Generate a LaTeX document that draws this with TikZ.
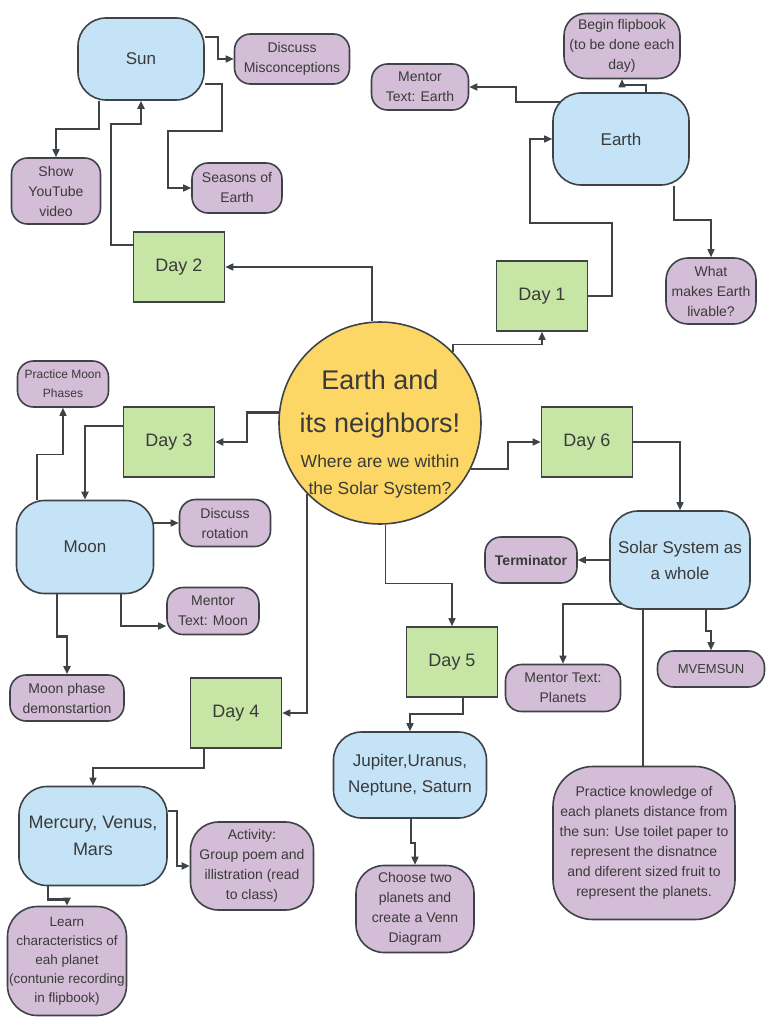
\documentclass[tikz,border=0pt]{standalone}
\usepackage{fontspec}
\setmainfont{Liberation Sans}
\usetikzlibrary{arrows.meta}
\definecolor{edg}{HTML}{3E4348}
\definecolor{txt}{HTML}{3A3A3A}
\definecolor{blx}{HTML}{C4E3F6}
\definecolor{plx}{HTML}{D4BDD6}
\definecolor{grx}{HTML}{C7E6A5}
\definecolor{ylx}{HTML}{FDD765}
\newcommand{\subq}{\fontsize{17.5pt}{27pt}\selectfont}
\tikzset{
    sz/.style 2 args={minimum width=#1pt,minimum height=#2pt},
    hub/.style={circle,draw=edg,fill=ylx,line width=1.6pt,minimum size=202pt,inner sep=-30pt,align=center,text=txt,font=\fontsize{27pt}{43pt}\selectfont},
    topic/.style={draw=edg,fill=blx,line width=1.6pt,rounded corners=28pt,inner sep=1pt,align=center,text=txt,font=\fontsize{17pt}{26pt}\selectfont},
    task/.style={draw=edg,fill=plx,line width=1.6pt,rounded corners=16pt,inner sep=1pt,align=center,text=txt,font=\fontsize{14pt}{20pt}\selectfont},
    dayx/.style={draw=edg,fill=grx,line width=1.6pt,minimum width=91pt,minimum height=70pt,inner sep=0pt,text=txt,font=\fontsize{18pt}{22pt}\selectfont},
    link/.style={edg,line width=1.5pt,-{Triangle[length=8pt,width=7pt]}},
    thk/.style={line width=2.6pt}
}

\begin{document}
\begin{tikzpicture}[x=1pt,y=-1pt]
    \fill[white] (0,0) rectangle (768,1024);
    \useasboundingbox (0,0) rectangle (768,1024);
    \node [hub] (hub) at (380,423) {\rule{0pt}{42pt}Earth and\\its neighbors!\\[-8pt]\subq Where are we within\\[-16pt]\subq the Solar System?};
    \node [topic,sz={126}{82}] (sun) at (141,59) {Sun};
    \node [task,sz={115}{50}] (misc) at (292,59) {Discuss\\Misconceptions};
    \node [task,sz={89}{66}] (yt) at (56,191) {Show\\YouTube\\video};
    \node [task,sz={90}{50}] (seas) at (237,188) {Seasons of\\Earth};
    \node [dayx] (day2) at (179,267) {Day 2};
    \node [task,sz={97}{46}] (mte) at (420,87) {Mentor\\Text: Earth};
    \node [task,sz={116}{65},rounded corners=22pt] (flip) at (622,46) {Begin flipbook\\(to be done each\\day)};
    \node [topic,sz={136}{92}] (earth) at (621,139) {Earth};
    \node [task,sz={90}{66},rounded corners=22pt] (liv) at (711,291) {What\\makes Earth\\livable?};
    \node [dayx] (day1) at (542,296) {Day 1};
    \node [task,sz={91}{46},font=\fontsize{12pt}{19pt}\selectfont] (pmoon) at (63,384) {Practice Moon\\Phases};
    \node [dayx] (day3) at (169,442) {Day 3};
    \node [topic,sz={137}{93}] (moon) at (85,547) {Moon};
    \node [task,sz={91}{47}] (drot) at (225,523) {Discuss\\rotation};
    \node [task,sz={92}{47}] (mmoon) at (213,611) {Mentor\\Text: Moon};
    \node [task,sz={114}{46}] (demo) at (67,698) {Moon phase\\demonstartion};
    \node [dayx] (day4) at (236,713) {Day 4};
    \node [topic,sz={148}{99},font=\fontsize{18pt}{27pt}\selectfont] (merc) at (93,836) {Mercury, Venus,\\Mars};
    \node [task,sz={123}{88},rounded corners=28pt] (act) at (252,866) {Activity:\\Group poem and\\illistration (read\\to class)};
    \node [task,sz={119}{109},rounded corners=30pt,font=\fontsize{13.5pt}{19pt}\selectfont] (learn) at (67,961) {Learn\\characteristics of\\eah planet\\(contunie recording\\in flipbook)};
    \node [dayx] (day6) at (587,442) {Day 6};
    \node [topic,sz={140}{98}] (solar) at (680,560) {Solar System as\\a whole};
    \node [task,sz={92}{46},font=\bfseries\fontsize{14pt}{20pt}\selectfont] (term) at (531,560) {Terminator};
    \node [task,sz={115}{47}] (mplan) at (563,688) {Mentor Text:\\Planets};
    \node [task,sz={107}{36},font=\fontsize{13pt}{18pt}\selectfont] (mvem) at (711,669) {MVEMSUN};
    \node [dayx] (day5) at (452,662) {Day 5};
    \node [topic,sz={153}{86}] (jup) at (410,775) {Jupiter,Uranus,\\Neptune, Saturn};
    \node [task,sz={118}{87},rounded corners=28pt] (venn) at (415,909) {Choose two\\planets and\\create a Venn\\Diagram};
    \node [task,sz={182}{153},rounded corners=40pt] (pknow) at (644,843) {Practice knowledge of\\each planets distance from\\the sun: Use toilet paper to\\represent the disnatnce\\and diferent sized fruit to\\represent the planets.};
    \draw [link] (sun.east |- 0,37) -| (218,59) -- (misc);
    \draw [link] (sun.east |- 0,84) -| (222,131) -| (168,188) -- (seas);
    \draw [link] (sun.south -| 99,0) |- (56,129) -- (yt);
    \draw [link,thk] (day2.west |- 0,245) -| (111,124) -| (sun);
    \draw [link] (hub.north -| 372,0) |- (day2);
    \draw [link] (hub.44) -- ++(0,-8) -| (day1);
    \draw [link] (day1.east) -| (612,223) -| (530,139) -- (earth);
    \draw [link] (earth.west |- 0,102) ++(8,0) -| (516,87) -- (mte);
    \draw [link] (earth.north -| 646,0) -- ++(0,-7) -| (flip);
    \draw [link] (earth.south -| 674,0) -- ++(0,34) -| (liv);
    \draw [link,thk] (hub.174) -| (247,442) -- (day3);
    \draw [link,line width=2pt] (day3.west |- 0,426) -| (moon);
    \draw [link] (moon.north -| 37,0) -- ++(0,-45) -| (pmoon);
    \draw [link] (moon.east |- drot) -- (drot);
    \draw [link] (moon.south -| 121,0) |- ([yshift=-15pt]mmoon.west);
    \draw [link,thk] (moon.south -| 57,0) -- ++(0,42) -| (demo);
    \draw [link] (hub.224) |- (day4);
    \draw [link] (day4.south -| 204,0) -- ++(0,19) -| (merc);
    \draw [link,thk] (merc.east |- 0,811) -| (177,866) -- (act);
    \draw [link,thk] (merc.south -| 48,0) -- ++(0,13) -| (learn);
    \draw [link] (hub.-27) -| (508,442) -- (day6);
    \draw [link] (day6.east) -| (solar);
    \draw [link] (solar.west) -- (term);
    \draw [link] (solar.south -| 622,0) ++(0,-6) -| (mplan);
    \draw [link] (solar.south -| 706,0) -- ++(0,21) -| (mvem);
    \draw [edg,line width=1.5pt] (solar.south -| 643,0) -- (pknow.north -| 643,0);
    \draw [link] (hub.-87) -- ++(0,59) -| (day5);
    \draw [link] (day5.south -| 463,0) -- ++(0,16) -| (jup);
    \draw [link] (jup.south -| 411,0) -- ++(0,24) -| (venn);
\end{tikzpicture}
\end{document}
